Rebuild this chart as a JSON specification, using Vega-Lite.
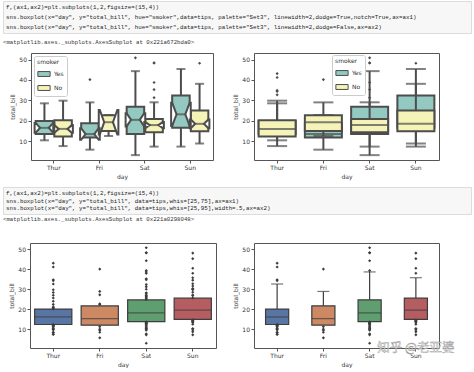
{
  "$schema": "https://vega.github.io/schema/vega-lite/v6.json",
  "padding": {"left": 2, "top": 0, "right": 0, "bottom": 0},
  "background": "white",
  "datasets": {
    "code1": [
      {"i": "1", "code": "f,(ax1,ax2)=plt.subplots(1,2,figsize=(15,4))"},
      {"i": "2", "code": "sns.boxplot(x=\"day\", y=\"total_bill\", hue=\"smoker\",data=tips, palette=\"Set3\", linewidth=2,dodge=True,notch=True,ax=ax1)"},
      {"i": "3", "code": "sns.boxplot(x=\"day\", y=\"total_bill\", hue=\"smoker\",data=tips, palette=\"Set3\", linewidth=2,dodge=False,ax=ax2)"}
    ],
    "code2": [
      {"i": "1", "code": "f,(ax1,ax2)=plt.subplots(1,2,figsize=(15,4))"},
      {"i": "2", "code": "sns.boxplot(x=\"day\", y=\"total_bill\", data=tips,whis=[25,75],ax=ax1)"},
      {"i": "3", "code": "sns.boxplot(x=\"day\", y=\"total_bill\", data=tips,whis=[25,95],width=.5,ax=ax2)"}
    ],
    "st_s": [
      {"day": "Thur", "smoker": "Yes", "lo": 10.34, "q1": 13.5, "med": 16.47, "q3": 19.8, "hi": 28.5, "notch": 2.4},
      {"day": "Thur", "smoker": "No", "lo": 7.51, "q1": 12.2, "med": 15.95, "q3": 20.2, "hi": 29.8, "notch": 1.87},
      {"day": "Fri", "smoker": "Yes", "lo": 5.75, "q1": 11.7, "med": 13.42, "q3": 18.7, "hi": 28.97, "notch": 2.84},
      {"day": "Fri", "smoker": "No", "lo": 12.46, "q1": 14.9, "med": 19.23, "q3": 22.6, "hi": 22.75, "notch": 6.04},
      {"day": "Sat", "smoker": "Yes", "lo": 3.07, "q1": 13.4, "med": 20.39, "q3": 26.8, "hi": 44.3, "notch": 3.25},
      {"day": "Sat", "smoker": "No", "lo": 7.25, "q1": 14.3, "med": 17.82, "q3": 20.8, "hi": 29.0, "notch": 1.52},
      {"day": "Sun", "smoker": "Yes", "lo": 7.25, "q1": 16.5, "med": 23.1, "q3": 32.4, "hi": 45.35, "notch": 5.73},
      {"day": "Sun", "smoker": "No", "lo": 8.77, "q1": 14.8, "med": 18.43, "q3": 25.0, "hi": 38.07, "notch": 2.12}
    ],
    "out_s": [
      {"day": "Thur", "smoker": "Yes", "v": 32.68},
      {"day": "Thur", "smoker": "No", "v": 34.3},
      {"day": "Thur", "smoker": "No", "v": 34.83},
      {"day": "Thur", "smoker": "No", "v": 41.19},
      {"day": "Thur", "smoker": "No", "v": 43.11},
      {"day": "Fri", "smoker": "Yes", "v": 40.17},
      {"day": "Sat", "smoker": "Yes", "v": 50.81},
      {"day": "Sat", "smoker": "No", "v": 31.27},
      {"day": "Sat", "smoker": "No", "v": 35.26},
      {"day": "Sat", "smoker": "No", "v": 38.73},
      {"day": "Sat", "smoker": "No", "v": 48.27},
      {"day": "Sat", "smoker": "No", "v": 48.33},
      {"day": "Sun", "smoker": "No", "v": 48.17}
    ],
    "st_d": [
      {"day": "Thur", "q1": 12.44, "med": 16.2, "q3": 20.16, "hi": 32.68},
      {"day": "Fri", "q1": 12.1, "med": 15.38, "q3": 21.75, "hi": 28.97},
      {"day": "Sat", "q1": 13.91, "med": 18.24, "q3": 24.74, "hi": 38.73},
      {"day": "Sun", "q1": 14.99, "med": 19.63, "q3": 25.6, "hi": 35.83}
    ],
    "out_bl": [
      {"day": "Thur", "v": 20.27}, {"day": "Thur", "v": 20.53}, {"day": "Thur", "v": 21.01}, {"day": "Thur", "v": 21.16}, {"day": "Thur", "v": 22.49}, {"day": "Thur", "v": 24.08}, {"day": "Thur", "v": 25.71}, {"day": "Thur", "v": 27.05}, {"day": "Thur", "v": 28.44}, {"day": "Thur", "v": 29.8}, {"day": "Thur", "v": 32.68}, {"day": "Thur", "v": 34.3}, {"day": "Thur", "v": 34.83}, {"day": "Thur", "v": 41.19}, {"day": "Thur", "v": 43.11},
      {"day": "Thur", "v": 7.51}, {"day": "Thur", "v": 7.56}, {"day": "Thur", "v": 8.35}, {"day": "Thur", "v": 8.52}, {"day": "Thur", "v": 9.78}, {"day": "Thur", "v": 10.07}, {"day": "Thur", "v": 10.34}, {"day": "Thur", "v": 10.65}, {"day": "Thur", "v": 11.38}, {"day": "Thur", "v": 11.69}, {"day": "Thur", "v": 11.87}, {"day": "Thur", "v": 12.03}, {"day": "Thur", "v": 12.16}, {"day": "Thur", "v": 12.26}, {"day": "Thur", "v": 12.43},
      {"day": "Fri", "v": 22.49}, {"day": "Fri", "v": 22.75}, {"day": "Fri", "v": 27.28}, {"day": "Fri", "v": 28.97}, {"day": "Fri", "v": 40.17},
      {"day": "Fri", "v": 5.75}, {"day": "Fri", "v": 8.58}, {"day": "Fri", "v": 9.6}, {"day": "Fri", "v": 10.09}, {"day": "Fri", "v": 11.35},
      {"day": "Sat", "v": 25.0}, {"day": "Sat", "v": 25.29}, {"day": "Sat", "v": 25.89}, {"day": "Sat", "v": 26.41}, {"day": "Sat", "v": 26.86}, {"day": "Sat", "v": 27.18}, {"day": "Sat", "v": 28.15}, {"day": "Sat", "v": 28.17}, {"day": "Sat", "v": 30.06}, {"day": "Sat", "v": 31.27}, {"day": "Sat", "v": 32.4}, {"day": "Sat", "v": 34.81}, {"day": "Sat", "v": 35.26}, {"day": "Sat", "v": 38.01}, {"day": "Sat", "v": 38.73}, {"day": "Sat", "v": 39.42}, {"day": "Sat", "v": 44.3}, {"day": "Sat", "v": 48.27}, {"day": "Sat", "v": 48.33}, {"day": "Sat", "v": 50.81},
      {"day": "Sat", "v": 3.07}, {"day": "Sat", "v": 7.25}, {"day": "Sat", "v": 7.74}, {"day": "Sat", "v": 9.55}, {"day": "Sat", "v": 10.07}, {"day": "Sat", "v": 10.27}, {"day": "Sat", "v": 10.59}, {"day": "Sat", "v": 11.17}, {"day": "Sat", "v": 11.24}, {"day": "Sat", "v": 12.02}, {"day": "Sat", "v": 12.6}, {"day": "Sat", "v": 12.74}, {"day": "Sat", "v": 13.0}, {"day": "Sat", "v": 13.13}, {"day": "Sat", "v": 13.27}, {"day": "Sat", "v": 13.42}, {"day": "Sat", "v": 13.81},
      {"day": "Sun", "v": 25.71}, {"day": "Sun", "v": 26.88}, {"day": "Sun", "v": 27.2}, {"day": "Sun", "v": 28.55}, {"day": "Sun", "v": 29.85}, {"day": "Sun", "v": 30.14}, {"day": "Sun", "v": 30.4}, {"day": "Sun", "v": 31.71}, {"day": "Sun", "v": 32.83}, {"day": "Sun", "v": 34.63}, {"day": "Sun", "v": 35.83}, {"day": "Sun", "v": 38.07}, {"day": "Sun", "v": 40.55}, {"day": "Sun", "v": 45.35}, {"day": "Sun", "v": 48.17},
      {"day": "Sun", "v": 7.25}, {"day": "Sun", "v": 8.77}, {"day": "Sun", "v": 9.68}, {"day": "Sun", "v": 10.29}, {"day": "Sun", "v": 10.33}, {"day": "Sun", "v": 12.54}, {"day": "Sun", "v": 13.37}, {"day": "Sun", "v": 13.94}, {"day": "Sun", "v": 14.07}, {"day": "Sun", "v": 14.26}, {"day": "Sun", "v": 14.48}, {"day": "Sun", "v": 14.83}
    ],
    "out_br": [
      {"day": "Thur", "v": 34.3}, {"day": "Thur", "v": 34.83}, {"day": "Thur", "v": 41.19}, {"day": "Thur", "v": 43.11},
      {"day": "Thur", "v": 7.51}, {"day": "Thur", "v": 7.56}, {"day": "Thur", "v": 8.35}, {"day": "Thur", "v": 8.52}, {"day": "Thur", "v": 9.78}, {"day": "Thur", "v": 10.07}, {"day": "Thur", "v": 10.34}, {"day": "Thur", "v": 10.65}, {"day": "Thur", "v": 11.38}, {"day": "Thur", "v": 11.69}, {"day": "Thur", "v": 11.87}, {"day": "Thur", "v": 12.03}, {"day": "Thur", "v": 12.16}, {"day": "Thur", "v": 12.26}, {"day": "Thur", "v": 12.43},
      {"day": "Fri", "v": 40.17},
      {"day": "Fri", "v": 5.75}, {"day": "Fri", "v": 8.58}, {"day": "Fri", "v": 9.6}, {"day": "Fri", "v": 10.09}, {"day": "Fri", "v": 11.35},
      {"day": "Sat", "v": 39.42}, {"day": "Sat", "v": 44.3}, {"day": "Sat", "v": 48.27}, {"day": "Sat", "v": 48.33}, {"day": "Sat", "v": 50.81},
      {"day": "Sat", "v": 3.07}, {"day": "Sat", "v": 7.25}, {"day": "Sat", "v": 7.74}, {"day": "Sat", "v": 9.55}, {"day": "Sat", "v": 10.07}, {"day": "Sat", "v": 10.27}, {"day": "Sat", "v": 10.59}, {"day": "Sat", "v": 11.17}, {"day": "Sat", "v": 11.24}, {"day": "Sat", "v": 12.02}, {"day": "Sat", "v": 12.6}, {"day": "Sat", "v": 12.74}, {"day": "Sat", "v": 13.0}, {"day": "Sat", "v": 13.13}, {"day": "Sat", "v": 13.27}, {"day": "Sat", "v": 13.42}, {"day": "Sat", "v": 13.81},
      {"day": "Sun", "v": 38.07}, {"day": "Sun", "v": 40.55}, {"day": "Sun", "v": 45.35}, {"day": "Sun", "v": 48.17},
      {"day": "Sun", "v": 7.25}, {"day": "Sun", "v": 8.77}, {"day": "Sun", "v": 9.68}, {"day": "Sun", "v": 10.29}, {"day": "Sun", "v": 10.33}, {"day": "Sun", "v": 12.54}, {"day": "Sun", "v": 13.37}, {"day": "Sun", "v": 13.94}, {"day": "Sun", "v": 14.07}, {"day": "Sun", "v": 14.26}, {"day": "Sun", "v": 14.48}, {"day": "Sun", "v": 14.83}
    ]
  },
  "spacing": 0,
  "resolve": {"scale": {"color": "independent", "xOffset": "independent", "shape": "independent"}, "legend": {"color": "independent"}},
  "vconcat": [
    {
      "width": 468, "height": 32,
      "view": {"fill": "#f7f7f7", "stroke": "#dcdcdc"},
      "data": {"name": "code1"},
      "mark": {"type": "text", "align": "left", "baseline": "middle", "dx": 3, "font": "Liberation Mono", "fontSize": 5.8, "color": "#222222"},
      "encoding": {
        "text": {"field": "code"},
        "y": {"field": "i", "type": "ordinal", "axis": null, "scale": {"type": "point", "padding": 0.6}},
        "x": {"datum": 0, "type": "quantitative", "axis": null, "scale": {"domain": [0, 1]}}
      }
    },
    {
      "width": 468, "height": 18,
      "data": {"values": [{"t": "<matplotlib.axes._subplots.AxesSubplot at 0x221a672bda0>"}]},
      "mark": {"type": "text", "align": "left", "baseline": "middle", "dy": -1, "font": "Liberation Mono", "fontSize": 5.7, "color": "#333333"},
      "encoding": {
        "text": {"field": "t"},
        "x": {"datum": 0, "type": "quantitative", "axis": null, "scale": {"domain": [0, 1]}}
      }
    },
    {
      "spacing": 0,
      "resolve": {"scale": {"color": "independent", "xOffset": "independent", "shape": "independent"}, "legend": {"color": "independent"}},
      "hconcat": [
        {"width": 6, "height": 133, "data": {"values": []}, "mark": "point"},
        {
          "width": 182, "height": 107,
          "view": {"stroke": "#555555"},
          "encoding": {
            "x": {"field": "day", "type": "nominal", "sort": ["Thur", "Fri", "Sat", "Sun"], "scale": {"paddingInner": 0, "paddingOuter": 0}, "axis": {"labelAngle": 0, "title": "day"}},
            "xOffset": {"field": "smoker", "type": "nominal", "sort": ["Yes", "No"], "scale": {"paddingInner": 0.06, "paddingOuter": 0.25}}
          },
          "layer": [
            {"data": {"name": "st_s"}, "mark": {"type": "rule", "color": "#4d4d4d", "strokeWidth": 2},
             "encoding": {"y": {"field": "lo", "type": "quantitative", "title": "total_bill", "scale": {"domain": [0.68, 53.2], "nice": false, "zero": false}, "axis": {"values": [10, 20, 30, 40, 50], "tickCount": 5}}, "y2": {"field": "hi"}}},
            {"data": {"name": "st_s"}, "mark": {"type": "tick", "color": "#4d4d4d", "thickness": 2, "size": 9},
             "encoding": {"y": {"field": "lo", "type": "quantitative", "title": "total_bill", "scale": {"domain": [0.68, 53.2], "nice": false, "zero": false}, "axis": {"values": [10, 20, 30, 40, 50], "tickCount": 5}}}},
            {"data": {"name": "st_s"}, "mark": {"type": "tick", "color": "#4d4d4d", "thickness": 2, "size": 9},
             "encoding": {"y": {"field": "hi", "type": "quantitative", "title": "total_bill", "scale": {"domain": [0.68, 53.2], "nice": false, "zero": false}, "axis": {"values": [10, 20, 30, 40, 50], "tickCount": 5}}}},
            {"data": {"name": "st_s"}, "mark": {"type": "bar", "stroke": "#4d4d4d", "strokeWidth": 2},
             "encoding": {"y": {"field": "q1", "type": "quantitative", "title": "total_bill", "scale": {"domain": [0.68, 53.2], "nice": false, "zero": false}, "axis": {"values": [10, 20, 30, 40, 50], "tickCount": 5}}, "y2": {"field": "q3"},
               "color": {"field": "smoker", "type": "nominal", "scale": {"domain": ["Yes", "No"], "range": ["#93c9c0", "#f5f3b8"]}, "legend": {"title": "smoker", "orient": "top-left", "offset": 3}}}},
            {"data": {"name": "st_s"}, "mark": {"type": "tick", "color": "#4d4d4d", "thickness": 2, "size": 17},
             "encoding": {"y": {"field": "med", "type": "quantitative", "title": "total_bill", "scale": {"domain": [0.68, 53.2], "nice": false, "zero": false}, "axis": {"values": [10, 20, 30, 40, 50], "tickCount": 5}}}},
            {"data": {"name": "st_s"}, "mark": {"type": "point", "filled": true, "fill": "white", "strokeWidth": 0, "size": 307, "opacity": 1},
             "encoding": {"y": {"field": "med", "type": "quantitative", "title": "total_bill", "scale": {"domain": [0.68, 53.2], "nice": false, "zero": false}, "axis": {"values": [10, 20, 30, 40, 50], "tickCount": 5}},
               "shape": {"field": "notch", "type": "ordinal", "legend": null, "scale": {"domain": [2.4, 1.87, 2.84, 6.04, 3.25, 1.52, 5.73, 2.12], "range": [
                 "M-1.12,-0.56L-1,-0.56L-0.5,0L-1,0.56L-1.12,0.56ZM1.12,-0.56L1,-0.56L0.5,0L1,0.56L1.12,0.56Z",
                 "M-1.12,-0.43L-1,-0.43L-0.5,0L-1,0.43L-1.12,0.43ZM1.12,-0.43L1,-0.43L0.5,0L1,0.43L1.12,0.43Z",
                 "M-1.12,-0.66L-1,-0.66L-0.5,0L-1,0.66L-1.12,0.66ZM1.12,-0.66L1,-0.66L0.5,0L1,0.66L1.12,0.66Z",
                 "M-1.12,-1.4L-1,-1.4L-0.5,0L-1,1.4L-1.12,1.4ZM1.12,-1.4L1,-1.4L0.5,0L1,1.4L1.12,1.4Z",
                 "M-1.12,-0.75L-1,-0.75L-0.5,0L-1,0.75L-1.12,0.75ZM1.12,-0.75L1,-0.75L0.5,0L1,0.75L1.12,0.75Z",
                 "M-1.12,-0.35L-1,-0.35L-0.5,0L-1,0.35L-1.12,0.35ZM1.12,-0.35L1,-0.35L0.5,0L1,0.35L1.12,0.35Z",
                 "M-1.12,-1.33L-1,-1.33L-0.5,0L-1,1.33L-1.12,1.33ZM1.12,-1.33L1,-1.33L0.5,0L1,1.33L1.12,1.33Z",
                 "M-1.12,-0.49L-1,-0.49L-0.5,0L-1,0.49L-1.12,0.49ZM1.12,-0.49L1,-0.49L0.5,0L1,0.49L1.12,0.49Z"
               ]}}}},
            {"data": {"name": "st_s"}, "mark": {"type": "point", "filled": false, "stroke": "#4d4d4d", "strokeWidth": 2, "size": 307, "opacity": 1},
             "encoding": {"y": {"field": "med", "type": "quantitative", "title": "total_bill", "scale": {"domain": [0.68, 53.2], "nice": false, "zero": false}, "axis": {"values": [10, 20, 30, 40, 50], "tickCount": 5}},
               "shape": {"field": "notch", "type": "ordinal", "legend": null, "scale": {"domain": [2.4, 1.87, 2.84, 6.04, 3.25, 1.52, 5.73, 2.12], "range": [
                 "M-1,-0.56L-0.5,0L-1,0.56M1,-0.56L0.5,0L1,0.56",
                 "M-1,-0.43L-0.5,0L-1,0.43M1,-0.43L0.5,0L1,0.43",
                 "M-1,-0.66L-0.5,0L-1,0.66M1,-0.66L0.5,0L1,0.66",
                 "M-1,-1.4L-0.5,0L-1,1.4M1,-1.4L0.5,0L1,1.4",
                 "M-1,-0.75L-0.5,0L-1,0.75M1,-0.75L0.5,0L1,0.75",
                 "M-1,-0.35L-0.5,0L-1,0.35M1,-0.35L0.5,0L1,0.35",
                 "M-1,-1.33L-0.5,0L-1,1.33M1,-1.33L0.5,0L1,1.33",
                 "M-1,-0.49L-0.5,0L-1,0.49M1,-0.49L0.5,0L1,0.49"
               ]}}}},
            {"data": {"name": "out_s"}, "mark": {"type": "point", "shape": "diamond", "filled": true, "size": 10, "color": "#4d4d4d", "opacity": 1},
             "encoding": {"y": {"field": "v", "type": "quantitative", "title": "total_bill", "scale": {"domain": [0.68, 53.2], "nice": false, "zero": false}, "axis": {"values": [10, 20, 30, 40, 50], "tickCount": 5}}}}
          ]
        },
        {"width": 18, "height": 1, "data": {"values": []}, "mark": "point"},
        {
          "width": 185, "height": 107,
          "view": {"stroke": "#555555"},
          "encoding": {
            "x": {"field": "day", "type": "nominal", "sort": ["Thur", "Fri", "Sat", "Sun"], "scale": {"paddingInner": 0, "paddingOuter": 0}, "axis": {"labelAngle": 0, "title": "day"}}
          },
          "layer": [
            {"data": {"name": "st_s"}, "transform": [{"filter": "datum.smoker == 'Yes'"}],
             "layer": [
               {"mark": {"type": "rule", "color": "#4d4d4d", "strokeWidth": 2},
                "encoding": {"y": {"field": "lo", "type": "quantitative", "title": "total_bill", "scale": {"domain": [0.68, 53.2], "nice": false, "zero": false}, "axis": {"values": [10, 20, 30, 40, 50], "tickCount": 5}}, "y2": {"field": "hi"}}},
               {"mark": {"type": "tick", "color": "#4d4d4d", "thickness": 2, "size": 20},
                "encoding": {"y": {"field": "lo", "type": "quantitative", "title": "total_bill", "scale": {"domain": [0.68, 53.2], "nice": false, "zero": false}, "axis": {"values": [10, 20, 30, 40, 50], "tickCount": 5}}}},
               {"mark": {"type": "tick", "color": "#4d4d4d", "thickness": 2, "size": 20},
                "encoding": {"y": {"field": "hi", "type": "quantitative", "title": "total_bill", "scale": {"domain": [0.68, 53.2], "nice": false, "zero": false}, "axis": {"values": [10, 20, 30, 40, 50], "tickCount": 5}}}},
               {"mark": {"type": "bar", "stroke": "#4d4d4d", "strokeWidth": 2, "width": {"band": 0.8}},
                "encoding": {"y": {"field": "q1", "type": "quantitative", "title": "total_bill", "scale": {"domain": [0.68, 53.2], "nice": false, "zero": false}, "axis": {"values": [10, 20, 30, 40, 50], "tickCount": 5}}, "y2": {"field": "q3"},
                  "color": {"field": "smoker", "type": "nominal", "scale": {"domain": ["Yes", "No"], "range": ["#93c9c0", "#f5f3b8"]}, "legend": {"title": "smoker", "orient": "none", "legendX": 78, "legendY": 2}}}},
               {"mark": {"type": "tick", "color": "#4d4d4d", "thickness": 2, "size": 36},
                "encoding": {"y": {"field": "med", "type": "quantitative", "title": "total_bill", "scale": {"domain": [0.68, 53.2], "nice": false, "zero": false}, "axis": {"values": [10, 20, 30, 40, 50], "tickCount": 5}}}}
             ]},
            {"data": {"name": "out_s"}, "transform": [{"filter": "datum.smoker == 'Yes'"}], "mark": {"type": "point", "shape": "diamond", "filled": true, "size": 10, "color": "#4d4d4d", "opacity": 1},
             "encoding": {"y": {"field": "v", "type": "quantitative", "title": "total_bill", "scale": {"domain": [0.68, 53.2], "nice": false, "zero": false}, "axis": {"values": [10, 20, 30, 40, 50], "tickCount": 5}}}},
            {"data": {"name": "st_s"}, "transform": [{"filter": "datum.smoker == 'No'"}],
             "layer": [
               {"mark": {"type": "rule", "color": "#4d4d4d", "strokeWidth": 2},
                "encoding": {"y": {"field": "lo", "type": "quantitative", "title": "total_bill", "scale": {"domain": [0.68, 53.2], "nice": false, "zero": false}, "axis": {"values": [10, 20, 30, 40, 50], "tickCount": 5}}, "y2": {"field": "hi"}}},
               {"mark": {"type": "tick", "color": "#4d4d4d", "thickness": 2, "size": 20},
                "encoding": {"y": {"field": "lo", "type": "quantitative", "title": "total_bill", "scale": {"domain": [0.68, 53.2], "nice": false, "zero": false}, "axis": {"values": [10, 20, 30, 40, 50], "tickCount": 5}}}},
               {"mark": {"type": "tick", "color": "#4d4d4d", "thickness": 2, "size": 20},
                "encoding": {"y": {"field": "hi", "type": "quantitative", "title": "total_bill", "scale": {"domain": [0.68, 53.2], "nice": false, "zero": false}, "axis": {"values": [10, 20, 30, 40, 50], "tickCount": 5}}}},
               {"mark": {"type": "bar", "stroke": "#4d4d4d", "strokeWidth": 2, "width": {"band": 0.8}},
                "encoding": {"y": {"field": "q1", "type": "quantitative", "title": "total_bill", "scale": {"domain": [0.68, 53.2], "nice": false, "zero": false}, "axis": {"values": [10, 20, 30, 40, 50], "tickCount": 5}}, "y2": {"field": "q3"},
                  "color": {"field": "smoker", "type": "nominal", "scale": {"domain": ["Yes", "No"], "range": ["#93c9c0", "#f5f3b8"]}, "legend": {"title": "smoker", "orient": "none", "legendX": 78, "legendY": 2}}}},
               {"mark": {"type": "tick", "color": "#4d4d4d", "thickness": 2, "size": 36},
                "encoding": {"y": {"field": "med", "type": "quantitative", "title": "total_bill", "scale": {"domain": [0.68, 53.2], "nice": false, "zero": false}, "axis": {"values": [10, 20, 30, 40, 50], "tickCount": 5}}}}
             ]},
            {"data": {"name": "out_s"}, "transform": [{"filter": "datum.smoker == 'No'"}], "mark": {"type": "point", "shape": "diamond", "filled": true, "size": 10, "color": "#4d4d4d", "opacity": 1},
             "encoding": {"y": {"field": "v", "type": "quantitative", "title": "total_bill", "scale": {"domain": [0.68, 53.2], "nice": false, "zero": false}, "axis": {"values": [10, 20, 30, 40, 50], "tickCount": 5}}}}
          ]
        }
      ]
    },
    {
      "width": 468, "height": 27,
      "view": {"fill": "#f7f7f7", "stroke": "#dcdcdc"},
      "data": {"name": "code2"},
      "mark": {"type": "text", "align": "left", "baseline": "middle", "dx": 3, "font": "Liberation Mono", "fontSize": 5.8, "color": "#222222"},
      "encoding": {
        "text": {"field": "code"},
        "y": {"field": "i", "type": "ordinal", "axis": null, "scale": {"type": "point", "padding": 0.85}},
        "x": {"datum": 0, "type": "quantitative", "axis": null, "scale": {"domain": [0, 1]}}
      }
    },
    {
      "width": 468, "height": 27,
      "data": {"values": [{"t": "<matplotlib.axes._subplots.AxesSubplot at 0x221a0298048>"}]},
      "mark": {"type": "text", "align": "left", "baseline": "middle", "dy": -9.5, "font": "Liberation Mono", "fontSize": 5.7, "color": "#333333"},
      "encoding": {
        "text": {"field": "t"},
        "x": {"datum": 0, "type": "quantitative", "axis": null, "scale": {"domain": [0, 1]}}
      }
    },
    {
      "spacing": 0,
      "resolve": {"scale": {"color": "independent"}, "legend": {"color": "independent"}},
      "hconcat": [
        {"width": 5, "height": 105, "data": {"values": []}, "mark": "point"},
        {
          "width": 186, "height": 105,
          "view": {"stroke": "#555555"},
          "encoding": {
            "x": {"field": "day", "type": "nominal", "sort": ["Thur", "Fri", "Sat", "Sun"], "scale": {"paddingInner": 0, "paddingOuter": 0}, "axis": {"labelAngle": 0, "title": "day"}}
          },
          "layer": [
            {"data": {"name": "st_d"}, "mark": {"type": "bar", "stroke": "#3d3d3d", "strokeWidth": 1.2, "width": {"band": 0.8}},
             "encoding": {"y": {"field": "q1", "type": "quantitative", "title": "total_bill", "scale": {"domain": [0.68, 53.2], "nice": false, "zero": false}, "axis": {"values": [10, 20, 30, 40, 50], "tickCount": 5}}, "y2": {"field": "q3"},
               "color": {"field": "day", "type": "nominal", "scale": {"domain": ["Thur", "Fri", "Sat", "Sun"], "range": ["#5975a4", "#cc8963", "#5f9e6e", "#b55d60"]}, "legend": null}}},
            {"data": {"name": "st_d"}, "mark": {"type": "tick", "color": "#3d3d3d", "thickness": 1.3, "size": 37},
             "encoding": {"y": {"field": "med", "type": "quantitative", "title": "total_bill", "scale": {"domain": [0.68, 53.2], "nice": false, "zero": false}, "axis": {"values": [10, 20, 30, 40, 50], "tickCount": 5}}}},
            {"data": {"name": "out_bl"}, "mark": {"type": "point", "shape": "diamond", "filled": true, "size": 10, "color": "#3d3d3d", "opacity": 1},
             "encoding": {"y": {"field": "v", "type": "quantitative", "title": "total_bill", "scale": {"domain": [0.68, 53.2], "nice": false, "zero": false}, "axis": {"values": [10, 20, 30, 40, 50], "tickCount": 5}}}}
          ]
        },
        {"width": 15, "height": 1, "data": {"values": []}, "mark": "point"},
        {
          "width": 185, "height": 105,
          "view": {"stroke": "#555555"},
          "encoding": {
            "x": {"field": "day", "type": "nominal", "sort": ["Thur", "Fri", "Sat", "Sun"], "scale": {"paddingInner": 0, "paddingOuter": 0}, "axis": {"labelAngle": 0, "title": "day"}}
          },
          "layer": [
            {"data": {"name": "st_d"}, "mark": {"type": "rule", "color": "#3d3d3d", "strokeWidth": 1.2},
             "encoding": {"y": {"field": "q3", "type": "quantitative", "title": "total_bill", "scale": {"domain": [0.68, 53.2], "nice": false, "zero": false}, "axis": {"values": [10, 20, 30, 40, 50], "tickCount": 5}}, "y2": {"field": "hi"}}},
            {"data": {"name": "st_d"}, "mark": {"type": "tick", "color": "#3d3d3d", "thickness": 1.2, "size": 12},
             "encoding": {"y": {"field": "hi", "type": "quantitative", "title": "total_bill", "scale": {"domain": [0.68, 53.2], "nice": false, "zero": false}, "axis": {"values": [10, 20, 30, 40, 50], "tickCount": 5}}}},
            {"data": {"name": "st_d"}, "mark": {"type": "bar", "stroke": "#3d3d3d", "strokeWidth": 1.2, "width": {"band": 0.5}},
             "encoding": {"y": {"field": "q1", "type": "quantitative", "title": "total_bill", "scale": {"domain": [0.68, 53.2], "nice": false, "zero": false}, "axis": {"values": [10, 20, 30, 40, 50], "tickCount": 5}}, "y2": {"field": "q3"},
               "color": {"field": "day", "type": "nominal", "scale": {"domain": ["Thur", "Fri", "Sat", "Sun"], "range": ["#5975a4", "#cc8963", "#5f9e6e", "#b55d60"]}, "legend": null}}},
            {"data": {"name": "st_d"}, "mark": {"type": "tick", "color": "#3d3d3d", "thickness": 1.3, "size": 23},
             "encoding": {"y": {"field": "med", "type": "quantitative", "title": "total_bill", "scale": {"domain": [0.68, 53.2], "nice": false, "zero": false}, "axis": {"values": [10, 20, 30, 40, 50], "tickCount": 5}}}},
            {"data": {"name": "out_br"}, "mark": {"type": "point", "shape": "diamond", "filled": true, "size": 10, "color": "#3d3d3d", "opacity": 1},
             "encoding": {"y": {"field": "v", "type": "quantitative", "title": "total_bill", "scale": {"domain": [0.68, 53.2], "nice": false, "zero": false}, "axis": {"values": [10, 20, 30, 40, 50], "tickCount": 5}}}},
            {"data": {"values": [{"t": "知乎 @老亚婆"}]}, "mark": {"type": "text", "font": "Noto Sans CJK SC", "fontSize": 12.5, "fill": "#f2f2f2", "stroke": "#8a8a8a", "strokeWidth": 0.4, "align": "center", "baseline": "middle", "opacity": 0.9},
             "encoding": {"text": {"field": "t"}, "x": {"datum": "Sun"}, "y": {"datum": 0.7, "type": "quantitative", "scale": {"domain": [0.68, 53.2], "nice": false, "zero": false}, "axis": {"values": [10, 20, 30, 40, 50], "tickCount": 5}}}}
          ]
        }
      ]
    }
  ],
  "config": {
    "view": {"stroke": null},
    "font": "DejaVu Sans",
    "axis": {"labelFontSize": 6, "titleFontSize": 6, "labelColor": "#333333", "titleColor": "#333333", "tickColor": "#555555", "tickSize": 3, "domain": false, "grid": false, "titleFontWeight": "normal", "labelPadding": 1.5, "titlePadding": 3, "labelOverlap": false},
    "axisY": {"tickCount": 5},
    "legend": {"titleFontSize": 6, "labelFontSize": 6, "titleFontWeight": "normal", "symbolType": "M-1,-0.4L1,-0.4L1,0.4L-1,0.4Z", "symbolSize": 150, "symbolStrokeColor": "#4d4d4d", "symbolStrokeWidth": 1, "padding": 3, "rowPadding": 2, "titlePadding": 2, "fillColor": "white", "strokeColor": "#cccccc", "cornerRadius": 2, "labelColor": "#333333", "titleColor": "#333333", "symbolOpacity": 1, "labelOffset": 3}
  }
}
